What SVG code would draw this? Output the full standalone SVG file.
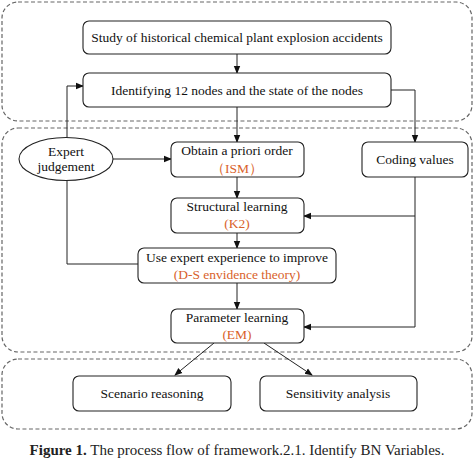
<svg xmlns="http://www.w3.org/2000/svg" width="474" height="461" viewBox="0 0 474 461">
<defs>
<marker id="ah" markerWidth="8" markerHeight="8" refX="7" refY="4" orient="auto" markerUnits="userSpaceOnUse">
<path d="M0,0.8 L8,4 L0,7.2 Z" fill="#111"/>
</marker>
<style>
.box{fill:#fff;stroke:#222;stroke-width:1.1}
.cont{fill:none;stroke:#666;stroke-width:1.2;stroke-dasharray:4 2.5}
.t{font-family:"Liberation Serif","Times New Roman",serif;font-size:13.5px;fill:#111;text-anchor:middle}
.o{fill:#D9622B}
.ln{fill:none;stroke:#222;stroke-width:1}
.cap{font-family:"Liberation Serif","Times New Roman",serif;font-size:15px;fill:#222;text-anchor:middle}
</style>
</defs>
<rect fill="#fff" width="474" height="461"/>
<g id="containers">
<rect class="cont" x="2" y="2" width="470" height="119" rx="16"/>
<rect class="cont" x="2" y="128" width="470" height="224" rx="16"/>
<rect class="cont" x="2" y="359" width="470" height="70" rx="16"/>
</g>
<g id="connectors">
<line class="ln" x1="237" y1="54" x2="237" y2="73" marker-end="url(#ah)"/>
<line class="ln" x1="237" y1="107" x2="237" y2="142" marker-end="url(#ah)"/>
<polyline class="ln" points="391,90 415,90 415,142" marker-end="url(#ah)"/>
<polyline class="ln" points="138,264 67,264 67,86 83,86" marker-end="url(#ah)"/>
<line class="ln" x1="113" y1="159" x2="171" y2="159" marker-end="url(#ah)"/>
<line class="ln" x1="237" y1="177" x2="237" y2="198" marker-end="url(#ah)"/>
<polyline class="ln" points="415,177 415,327 304,327" marker-end="url(#ah)"/>
<line class="ln" x1="415" y1="216" x2="304" y2="216" marker-end="url(#ah)"/>
<line class="ln" x1="237" y1="233" x2="237" y2="248" marker-end="url(#ah)"/>
<line class="ln" x1="237" y1="283" x2="237" y2="309" marker-end="url(#ah)"/>
<line class="ln" x1="214" y1="343" x2="175" y2="375" marker-end="url(#ah)"/>
<line class="ln" x1="264" y1="343" x2="312" y2="375" marker-end="url(#ah)"/>
</g>
<g id="study">
<rect class="box" x="83" y="21" width="308" height="33" rx="6"/>
<text class="t" x="237" y="42">Study of historical chemical plant explosion accidents</text>
</g>
<g id="identify">
<rect class="box" x="83" y="73" width="308" height="34" rx="6"/>
<text class="t" x="237" y="95">Identifying 12 nodes and the state of the nodes</text>
</g>
<g id="expert">
<ellipse class="box" cx="66" cy="159" rx="47" ry="21.5"/>
<text class="t" x="66" y="156">Expert</text>
<text class="t" x="66" y="171">judgement</text>
</g>
<g id="obtain">
<rect class="box" x="171" y="142" width="133" height="35" rx="6"/>
<text class="t" x="237" y="155">Obtain a priori order</text>
<text class="t o" x="237" y="173">（ISM）</text>
</g>
<g id="coding">
<rect class="box" x="362" y="142" width="106" height="35" rx="6"/>
<text class="t" x="415" y="164">Coding values</text>
</g>
<g id="structural">
<rect class="box" x="171" y="198" width="133" height="35" rx="6"/>
<text class="t" x="237" y="211">Structural learning</text>
<text class="t o" x="237" y="228">(K2)</text>
</g>
<g id="useexpert">
<rect class="box" x="138" y="248" width="198" height="35" rx="6"/>
<text class="t" x="237" y="262">Use expert experience to improve</text>
<text class="t o" x="237" y="279">(D-S envidence theory)</text>
</g>
<g id="parameter">
<rect class="box" x="171" y="309" width="133" height="34" rx="6"/>
<text class="t" x="237" y="322">Parameter learning</text>
<text class="t o" x="237" y="339">(EM)</text>
</g>
<g id="scenario">
<rect class="box" x="73" y="376" width="158" height="35" rx="6"/>
<text class="t" x="152" y="398">Scenario reasoning</text>
</g>
<g id="sensitivity">
<rect class="box" x="260" y="376" width="157" height="35" rx="6"/>
<text class="t" x="338" y="398">Sensitivity analysis</text>
</g>
<text class="cap" x="237" y="455"><tspan font-weight="bold">Figure 1.</tspan> The process flow of framework.2.1. Identify BN Variables.</text>
</svg>
